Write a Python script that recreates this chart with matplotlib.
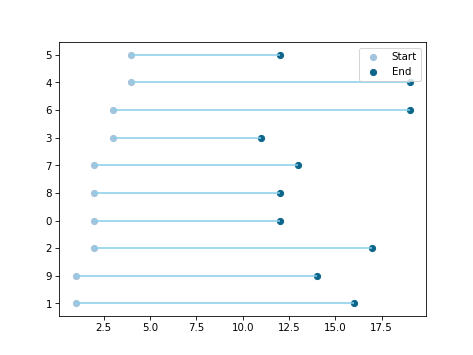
import matplotlib
matplotlib.use("Agg")
import matplotlib.pyplot as plt
import numpy as np

groups = ['1', '9', '2', '0', '8', '7', '3', '6', '4', '5']
start = [1, 1, 2, 2, 2, 2, 3, 3, 4, 4]
end = [16, 14, 17, 12, 12, 13, 11, 19, 19, 12]

fig = plt.figure(figsize=(6.4, 4.8), dpi=74)
pos = np.arange(len(groups))
plt.hlines(y=pos, xmin=start, xmax=end, color='skyblue')
plt.scatter(start, pos, color='#a3c4dc', alpha=1, label='Start')
plt.scatter(end, pos, color='#0e668b', alpha=1, label='End')
plt.legend()
plt.yticks(pos, groups)
plt.savefig('out.png', dpi=74)
